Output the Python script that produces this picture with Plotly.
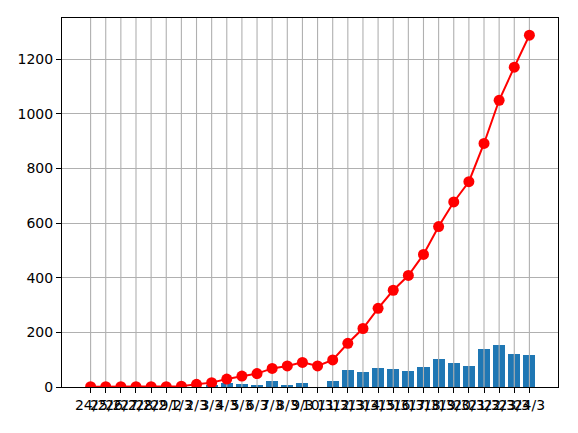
import plotly.graph_objects as go

dates = ["24/2", "25/2", "26/2", "27/2", "28/2", "29/2",
         "1/3", "2/3", "3/3", "4/3", "5/3", "6/3", "7/3", "8/3", "9/3", "10/3",
         "11/3", "12/3", "13/3", "14/3", "15/3", "16/3", "17/3", "18/3", "19/3",
         "20/3", "21/3", "22/3", "23/3", "24/3"]

cumulative = [1, 1, 1, 1, 1, 1, 3, 10, 16, 29, 40, 49, 68, 77, 90, 77,
              99, 160, 214, 288, 354, 408, 485, 587, 677, 751, 891, 1049, 1170, 1287]

daily = [0, 0, 0, 0, 0, 0, 0, 0, 5, 14, 11, 8, 22, 4, 14, 0,
         22, 62, 55, 69, 66, 58, 73, 102, 88, 77, 139, 154, 121, 117]

yticks = [0, 200, 400, 600, 800, 1000, 1200]

idx = list(range(len(dates)))
y_top = 1350

# vertical grid lines drawn above the bars but below the line (matplotlib order)
gx, gy = [], []
for i in idx:
    gx += [i, i, None]
    gy += [0, y_top, None]

fig = go.Figure()
fig.add_trace(go.Bar(x=idx, y=daily, width=0.8, marker=dict(color="#1f77b4", line=dict(width=0)),
                     showlegend=False, hoverinfo="skip"))
fig.add_trace(go.Scatter(x=gx, y=gy, mode="lines", line=dict(color="#b0b0b0", width=1.1),
                         showlegend=False, hoverinfo="skip"))
fig.add_trace(go.Scatter(x=idx, y=cumulative, mode="lines+markers",
                         line=dict(color="#ff0000", width=2),
                         marker=dict(color="#ff0000", size=11),
                         cliponaxis=True, showlegend=False))

# page body has an 8px default margin; size the figure so it fits the window
fig.update_layout(
    width=562, height=417,
    margin=dict(l=54, r=12, t=10, b=38, autoexpand=False),
    paper_bgcolor="white", plot_bgcolor="white",
    font=dict(family="DejaVu Sans", size=14, color="black"),
    bargap=0,
)
fig.update_xaxes(
    range=[-1.89, 30.89], tickmode="array", tickvals=idx, ticktext=dates,
    tickangle=0, showgrid=False, zeroline=False, automargin=False,
    showline=True, mirror=True, linecolor="black", linewidth=1,
    ticks="outside", ticklen=5, tickcolor="black", tickwidth=1,
)
fig.update_yaxes(
    range=[0, y_top], tickmode="array", tickvals=yticks, automargin=False,
    showgrid=True, gridcolor="#b0b0b0", gridwidth=1.1, zeroline=False,
    showline=True, mirror=True, linecolor="black", linewidth=1,
    ticks="outside", ticklen=5, tickcolor="black", tickwidth=1,
)

fig.write_html("out.html")
